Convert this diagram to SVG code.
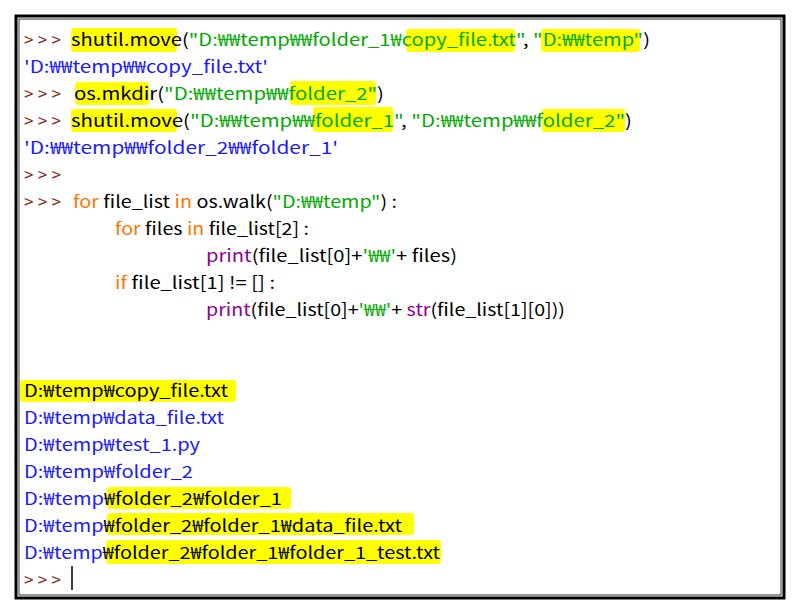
<svg xmlns="http://www.w3.org/2000/svg" width="800" height="613" viewBox="0 0 800 613">
<style>
text{font-family:"Noto Sans CJK KR","Malgun Gothic",sans-serif;font-size:17px;fill:#000}
.p{fill:#8b2a1a}.s{fill:#00aa00}.o{fill:#1a1aff}.k{fill:#ff7700}.b{fill:#900090}
.h{fill:#ffff00}
</style>
<rect width="800" height="613" fill="#fff"/>
<rect x="16" y="16" width="768" height="582" fill="#fff" stroke="#000" stroke-width="3"/>
<rect x="19" y="19" width="762" height="576" fill="none" stroke="#333" stroke-width="1"/>
<g id="highlights">
<rect class="h" x="71" y="28" width="106" height="24" rx="3"/>
<rect class="h" x="406" y="29" width="109" height="23" rx="3"/>
<rect class="h" x="541" y="29" width="99" height="23" rx="3"/>
<rect class="h" x="75" y="82" width="74" height="23" rx="3"/>
<rect class="h" x="290" y="81" width="86" height="24" rx="3"/>
<rect class="h" x="71" y="109" width="106" height="23" rx="3"/>
<rect class="h" x="313" y="107" width="80" height="25" rx="3"/>
<rect class="h" x="542" y="109" width="83" height="23" rx="3"/>
<rect class="h" x="20" y="380" width="216" height="22" rx="3"/>
<rect class="h" x="107" y="487" width="184" height="22" rx="3"/>
<rect class="h" x="107" y="513" width="307" height="22" rx="3"/>
<rect class="h" x="106" y="540" width="335" height="24" rx="3"/>
</g>
<g id="code">
<text x="24" y="46" class="p" textLength="37" lengthAdjust="spacing">&gt;&gt;&gt;</text>
<text x="71" y="46" textLength="579" lengthAdjust="spacingAndGlyphs">shutil.move(<tspan class="s">"D:₩₩temp₩₩folder_1₩copy_file.txt"</tspan>, <tspan class="s">"D:₩₩temp"</tspan>)</text>
<text x="24" y="73" class="o" textLength="244" lengthAdjust="spacingAndGlyphs">'D:₩₩temp₩₩copy_file.txt'</text>
<text x="24" y="100" class="p" textLength="37" lengthAdjust="spacing">&gt;&gt;&gt;</text>
<text x="74" y="100" textLength="310" lengthAdjust="spacingAndGlyphs">os.mkdir(<tspan class="s">"D:₩₩temp₩₩folder_2"</tspan>)</text>
<text x="24" y="127" class="p" textLength="37" lengthAdjust="spacing">&gt;&gt;&gt;</text>
<text x="71" y="127" textLength="561" lengthAdjust="spacingAndGlyphs">shutil.move(<tspan class="s">"D:₩₩temp₩₩folder_1"</tspan>, <tspan class="s">"D:₩₩temp₩₩folder_2"</tspan>)</text>
<text x="24" y="154" class="o" textLength="314" lengthAdjust="spacingAndGlyphs">'D:₩₩temp₩₩folder_2₩₩folder_1'</text>
<text x="24" y="181" class="p" textLength="37" lengthAdjust="spacing">&gt;&gt;&gt;</text>
<text x="24" y="208" class="p" textLength="37" lengthAdjust="spacing">&gt;&gt;&gt;</text>
<text x="73" y="208" textLength="324" lengthAdjust="spacingAndGlyphs"><tspan class="k">for</tspan> file_list <tspan class="k">in</tspan> os.walk(<tspan class="s">"D:₩₩temp"</tspan>) :</text>
<text x="115" y="235" textLength="194" lengthAdjust="spacingAndGlyphs"><tspan class="k">for</tspan> files <tspan class="k">in</tspan> file_list[2] :</text>
<text x="206" y="262" textLength="251" lengthAdjust="spacingAndGlyphs"><tspan class="b">print</tspan>(file_list[0]+<tspan class="s">'₩₩'</tspan>+ files)</text>
<text x="115" y="289" textLength="160" lengthAdjust="spacingAndGlyphs"><tspan class="k">if</tspan> file_list[1] != [] :</text>
<text x="206" y="316" textLength="359" lengthAdjust="spacingAndGlyphs"><tspan class="b">print</tspan>(file_list[0]+<tspan class="s">'₩₩'</tspan>+ <tspan class="b">str</tspan>(file_list[1][0]))</text>
</g>
<g id="output">
<text x="24" y="397" textLength="204" lengthAdjust="spacingAndGlyphs">D:₩temp₩copy_file.txt</text>
<text x="24" y="424" class="o" textLength="200" lengthAdjust="spacingAndGlyphs">D:₩temp₩data_file.txt</text>
<text x="24" y="451" class="o" textLength="176" lengthAdjust="spacingAndGlyphs">D:₩temp₩test_1.py</text>
<text x="24" y="478" class="o" textLength="169" lengthAdjust="spacingAndGlyphs">D:₩temp₩folder_2</text>
<text x="24" y="505" textLength="258" lengthAdjust="spacingAndGlyphs"><tspan class="o">D:₩temp</tspan>₩folder_2₩folder_1</text>
<text x="24" y="532" textLength="378" lengthAdjust="spacingAndGlyphs"><tspan class="o">D:₩temp</tspan>₩folder_2₩folder_1₩data_file.txt</text>
<text x="24" y="559" textLength="416" lengthAdjust="spacingAndGlyphs"><tspan class="o">D:₩temp</tspan>₩folder_2₩folder_1₩folder_1_test.txt</text>
<text x="24" y="586" class="p" textLength="37" lengthAdjust="spacing">&gt;&gt;&gt;</text>
<line x1="72" y1="566" x2="72" y2="590" stroke="#000" stroke-width="1.5"/>
</g>
</svg>
